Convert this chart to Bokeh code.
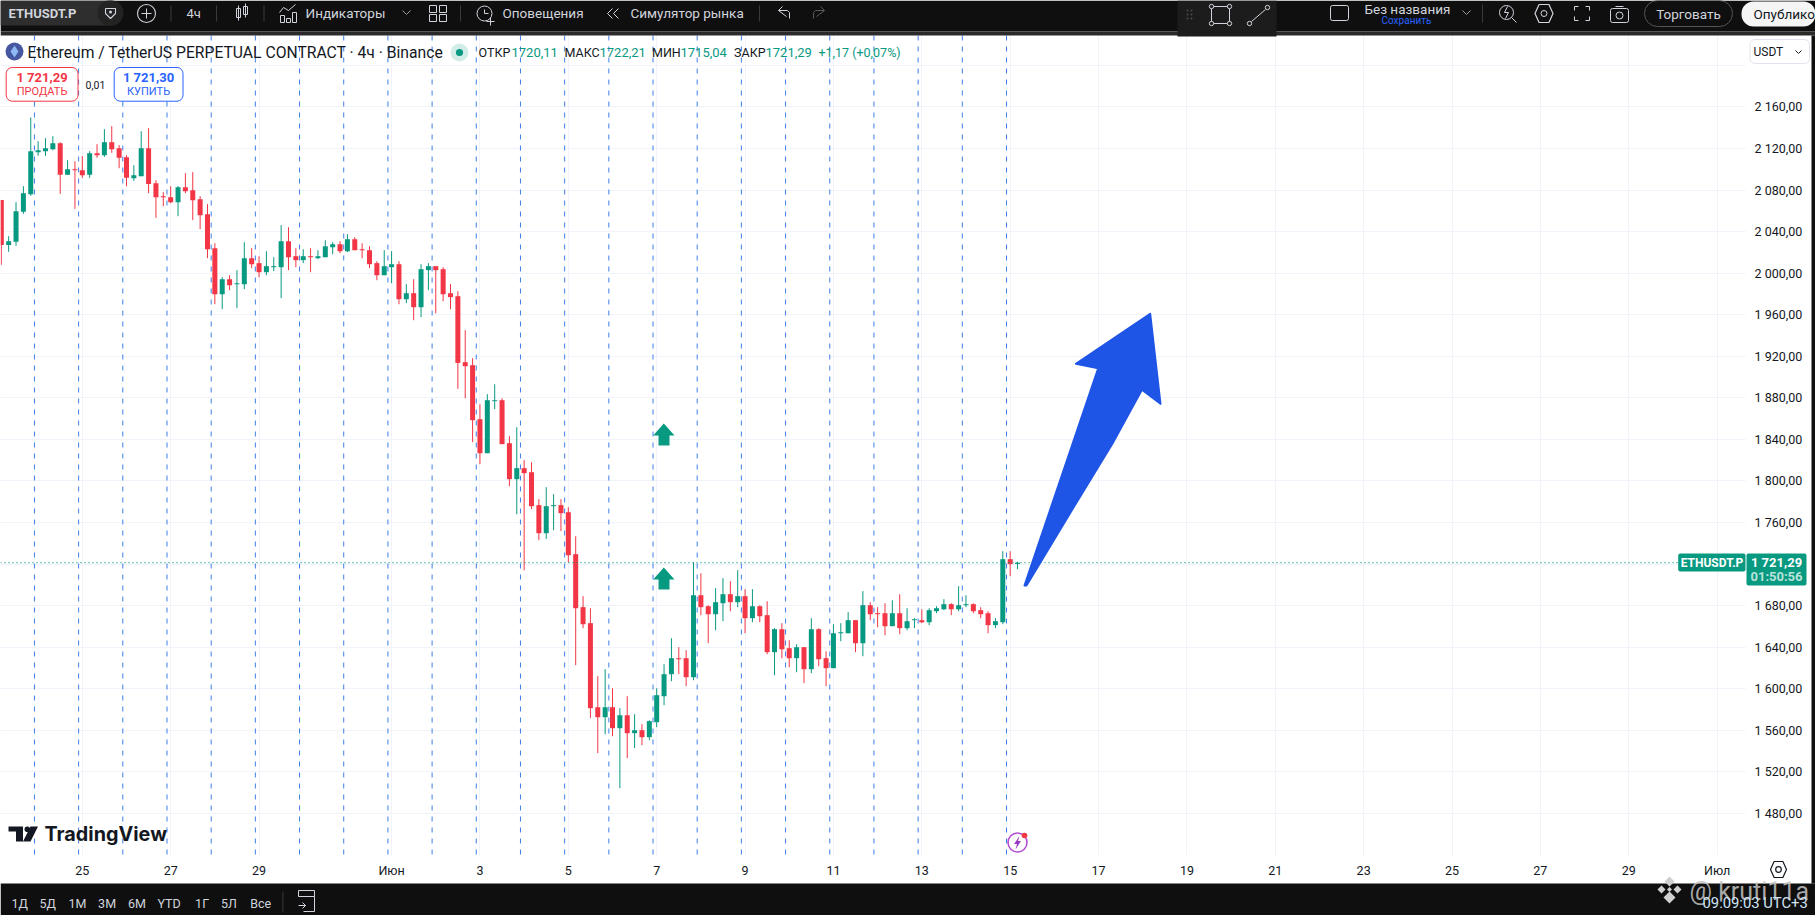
from bokeh.plotting import figure
from bokeh.models import Range1d, FixedTicker, LinearAxis, Grid
from bokeh.core.properties import value
from bokeh.embed import file_html
from bokeh.resources import INLINE

# ---------- data ----------
highs = [2070.5,2035.6,2068.3,2083.7,2149.8,2127.0,2129.9,2131.8,2126.0,2108.7,
2107.7,2112.6,2117.4,2124.1,2138.5,2141.4,2123.2,2113.5,2103.9,2136.6,
2139.5,2089.5,2077.9,2083.7,2083.7,2096.2,2097.2,2074.1,2066.4,2028.8,
1996.1,1998.0,2002.9,2029.8,2024.0,2016.3,2021.1,2015.3,2046.2,2044.2,
2024.0,2023.0,2024.0,2022.1,2031.7,2029.8,2030.8,2037.5,2034.6,2028.8,
2025.9,2011.5,2022.1,2021.1,2011.5,1989.4,1994.2,2008.6,2009.6,2006.7,
2005.7,1989.4,1982.6,1945.1,1918.1,1873.9,1883.5,1893.1,1879.6,1843.1,
1851.7,1820.0,1818.0,1782.4,1794.0,1787.2,1782.4,1774.7,1746.8,1689.1,
1677.5,1612.1,1618.8,1600.5,1581.3,1592.8,1575.5,1565.9,1569.7,1600.5,
1623.6,1648.6,1640.0,1637.1,1721.5,1711.2,1680.4,1696.8,1706.4,1703.5,
1714.1,1695.8,1695.8,1680.4,1684.2,1658.3,1663.1,1646.7,1642.9,1640.0,
1667.9,1658.3,1636.1,1662.1,1663.1,1673.7,1666.0,1693.9,1683.3,1678.5,
1682.3,1685.2,1691.0,1677.5,1667.9,1676.5,1677.5,1679.4,1686.2,1682.3,
1698.7,1690.0,1682.3,1678.5,1674.6,1667.9,1732.4,1732.4,1722.21]
lows = [2008.0,2020.5,2026.3,2057.0,2074.4,2112.9,2112.9,2118.3,2076.3,2094.6,
2061.9,2091.7,2091.7,2111.0,2111.9,2115.8,2101.0,2083.7,2088.8,2093.3,
2076.9,2053.2,2064.4,2067.3,2054.8,2076.9,2051.0,2042.3,2014.4,1970.1,
1965.3,1983.6,1966.3,1984.6,2004.8,1996.1,1998.0,2001.9,1975.9,2002.9,
2005.7,2009.6,2000.9,2013.4,2015.3,2018.2,2019.2,2020.2,2022.1,2014.4,
2004.8,1993.2,1998.0,1990.3,1970.1,1971.1,1954.7,1957.6,1983.6,1961.4,
1973.0,1965.3,1888.6,1879.6,1837.3,1816.1,1826.7,1869.1,1835.4,1794.9,
1768.0,1714.0,1772.8,1743.0,1744.2,1752.6,1751.7,1721.5,1622.7,1658.3,
1571.6,1538.0,1556.2,1554.3,1504.3,1533.2,1542.8,1545.7,1550.5,1563.0,
1584.2,1607.3,1614.0,1602.4,1608.2,1670.8,1643.8,1656.3,1665.0,1674.6,
1678.5,1653.4,1664.0,1664.0,1633.2,1613.0,1629.4,1620.7,1615.9,1605.3,
1615.0,1621.7,1602.4,1619.8,1645.7,1653.4,1635.2,1631.3,1666.0,1659.2,
1651.5,1660.2,1652.5,1656.3,1658.3,1663.1,1661.2,1672.7,1675.6,1670.8,
1674.6,1678.5,1672.7,1667.9,1653.4,1658.3,1662.1,1708.3,1715.04]
opens = [2070.5,2027.2,2030.1,2059.0,2076.0,2116.4,2117.4,2119.3,2125.1,2094.6,
2100.0,2099.1,2094.6,2115.4,2113.5,2126.0,2120.3,2111.6,2091.4,2093.3,
2120.3,2086.6,2074.1,2073.1,2068.3,2082.7,2079.8,2071.2,2056.7,2024.0,
1979.7,1994.2,1989.4,1989.4,2014.4,2009.6,2000.9,2005.7,2005.7,2030.8,
2016.3,2012.5,2016.3,2014.4,2015.3,2025.0,2027.9,2021.1,2032.7,2023.0,
2022.1,2009.6,1998.0,2005.7,2008.6,1974.9,1980.7,1967.2,2002.9,2006.7,
2003.8,1980.7,1977.8,1914.3,1911.4,1859.4,1826.7,1876.8,1877.7,1836.3,
1801.7,1812.3,1808.4,1776.7,1749.7,1775.7,1776.7,1769.9,1729.5,1678.5,
1663.1,1582.2,1572.6,1582.2,1562.0,1574.5,1557.2,1560.1,1553.4,1567.8,
1592.8,1614.0,1629.4,1629.4,1611.1,1690.0,1679.4,1671.7,1682.3,1691.0,
1683.3,1689.1,1667.9,1679.4,1670.8,1635.2,1657.3,1639.0,1629.4,1640.0,
1618.8,1657.3,1629.4,1619.8,1653.4,1653.4,1666.0,1643.8,1680.4,1672.7,
1672.7,1660.2,1672.7,1658.3,1666.0,1666.0,1664.0,1674.6,1676.5,1681.4,
1676.5,1680.4,1681.4,1675.6,1672.7,1661.2,1664.0,1724.7,1720.11]
closes = [2027.2,2030.8,2059.6,2076.9,2117.4,2118.3,2120.3,2125.1,2094.6,2100.0,
2099.1,2094.3,2115.4,2113.5,2126.0,2119.3,2111.0,2091.7,2094.3,2120.3,
2085.9,2073.1,2073.1,2068.3,2082.7,2078.9,2070.2,2055.8,2023.0,1979.7,
1994.2,1988.4,1990.3,2014.4,2008.6,2000.9,2006.7,2006.7,2030.8,2015.3,
2012.5,2016.3,2015.3,2016.3,2025.9,2027.9,2021.1,2032.7,2022.1,2022.1,
2008.6,1998.0,2006.7,2008.6,1974.9,1980.7,1967.2,2003.8,2006.7,2002.9,
1979.7,1976.9,1913.6,1910.4,1858.5,1826.7,1877.7,1877.7,1835.4,1801.7,
1812.3,1807.5,1775.7,1749.7,1775.7,1776.7,1769.0,1728.5,1677.5,1662.1,
1581.3,1572.6,1582.2,1562.0,1574.5,1557.2,1560.1,1553.4,1568.8,1593.8,
1614.0,1629.4,1628.4,1611.1,1690.0,1678.5,1671.7,1683.3,1691.0,1683.3,
1689.1,1667.9,1679.4,1669.8,1635.2,1657.3,1638.0,1629.4,1640.0,1618.8,
1657.3,1628.4,1619.8,1653.4,1654.4,1666.0,1643.8,1680.4,1671.7,1671.7,
1660.2,1672.7,1658.3,1665.0,1666.9,1664.0,1675.6,1677.5,1681.4,1676.5,
1680.4,1681.4,1674.6,1671.7,1661.2,1665.0,1724.7,1719.9,1721.29]

date_ticks = [11,23,35,53,65,77,89,101,113,125,137,149,161,173,185,197,209,221,233]
date_labels = ["25","27","29","Июн","3","5","7","9","11","13","15","17","19","21","23","25","27","29","Июл"]
day_lines = [4.5+6*i for i in range(23)]
price_ticks = [1480+40*i for i in range(18)]
last_price = 1721.29

GREEN, RED, BLUE, DARK = "#089981", "#F23645", "#2962FF", "#0f0f0f"
INK, BAR_TXT = "#131722", "#d1d4dc"
FONT = "Roboto"

# the overlay drawings (toolbars, badges, logo) are placed in page pixels
def fx(px): return (px-0.8)/7.364
def fy(py): return 2160-(py-106.4)/1.039

p = figure(width=1815, height=915, min_border=0,
           x_range=Range1d(fx(0), fx(1815)), y_range=Range1d(fy(915), fy(0)),
           x_axis_type=None, y_axis_type=None, toolbar_location=None, output_backend="svg",
           background_fill_color="white", border_fill_color="white", outline_line_color=None)

def txt(x, y, s, size=13, color=BAR_TXT, align="left", style="normal", font=FONT, alpha=1.0):
    p.text([fx(x)],[fy(y)],text=[s],text_font=value(font),text_font_size=f"{size}px",text_color=color,
           text_align=align,text_baseline="middle",text_font_style=style,text_alpha=alpha)
def ln(xs, ys, color=BAR_TXT, w=1.0):
    p.line([fx(v) for v in xs],[fy(v) for v in ys],line_color=color,line_width=w)
def box(l, r, t, b, fill=None, line=None, rad=0, w=1.0):
    p.quad(left=[fx(l)],right=[fx(r)],top=[fy(t)],bottom=[fy(b)],fill_color=fill,line_color=line,line_width=w,border_radius=rad)
def circ(x, y, r, fill=None, line=None, w=1.0, falpha=1.0):
    p.circle([fx(x)],[fy(y)],radius=r/7.364,fill_color=fill,fill_alpha=falpha,line_color=line,line_width=w)
def poly(xs, ys, fill, line=None, w=1.0):
    p.patch([fx(v) for v in xs],[fy(v) for v in ys],fill_color=fill,line_color=line,line_width=w,line_join="round")
def hexa(cx, cy, r=8, color=BAR_TXT):
    ln([cx-r*.55,cx+r*.55,cx+r,cx+r*.55,cx-r*.55,cx-r,cx-r*.55],[cy-r,cy-r,cy,cy+r,cy+r,cy,cy-r],color,1.2)

# ---------- axes and grid ----------
xax = LinearAxis(ticker=FixedTicker(ticks=date_ticks), fixed_location=fy(855),
                 major_label_overrides=dict(zip(date_ticks, date_labels)))
yax_ticks = price_ticks + [2200]
y_over = {t: f"{t//1000} {t%1000:03d},00" for t in price_ticks}
y_over[2200] = " "; y_over[1720] = " "
yax = LinearAxis(ticker=FixedTicker(ticks=yax_ticks), fixed_location=fx(1745), major_label_overrides=y_over)
for ax, sd in ((xax,7),(yax,9)):
    ax.axis_line_color=None; ax.major_tick_line_color=None; ax.minor_tick_line_color=None
    ax.major_tick_out=0; ax.major_tick_in=0
    ax.major_label_text_font=FONT; ax.major_label_text_font_size="12.5px"
    ax.major_label_text_color=INK; ax.major_label_standoff=sd
p.add_layout(xax,"below"); p.add_layout(yax,"right")
p.add_layout(Grid(dimension=0,ticker=xax.ticker,grid_line_color="#f0f3fa",grid_line_width=1))
p.add_layout(Grid(dimension=1,ticker=yax.ticker,grid_line_color="#f0f3fa",grid_line_width=1))
# the price and time scales have a plain white ground
box(1745,1811,35,883,"white"); box(0,1745,855,883,"white")

# ---------- candles ----------
p.segment(day_lines,[fy(35)]*len(day_lines),day_lines,[fy(855)]*len(day_lines),
          line_color="#3f7ee8",line_width=1,line_dash="5 6")
idx = list(range(len(opens)))
colors = [GREEN if c>=o else RED for o,c in zip(opens,closes)]
p.segment(idx,highs,idx,lows,line_color=colors,line_width=1)
p.vbar(x=idx,width=0.68,top=[max(o,c) for o,c in zip(opens,closes)],
       bottom=[min(o,c) for o,c in zip(opens,closes)],fill_color=colors,line_color=None)
p.line([fx(0),fx(1678)],[last_price,last_price],line_color=GREEN,line_width=1.2,line_dash="1 3")

for py0 in (423,567):
    poly([663.3,674,669,669,658,658,652.7],[py0,py0+12,py0+12,py0+22,py0+22,py0+12,py0+12],GREEN)
poly([1024,1063,1097.7,1075.4,1149.7,1160,1141.4,1112,1073,1026],
     [585,470,367.7,363.3,313.3,403.3,389.3,443,507,585],"#1f55e6","#1f55e6",2)

# ---------- legend row, order boxes ----------
circ(14,51,9,"#46579f")
poly((14,18,14,10),(45,51,57,51),"#8fb8f5")
txt(27,52,"Ethereum / TetherUS PERPETUAL CONTRACT · 4ч · Binance",15.7,INK)
circ(459,52,9,GREEN,falpha=.18); circ(459,52,3.6,GREEN)
for lx,l,vx,v in [(478,"ОТКР",511,"1720,11"),(564,"МАКС",599,"1722,21"),(651.5,"МИН",680,"1715,04"),(733.6,"ЗАКР",765,"1721,29")]:
    txt(lx,52,l,12.5,INK); txt(vx,52,v,13,GREEN)
txt(818,52,"+1,17 (+0,07%)",12.5,GREEN)
box(5.7,77.5,67,100.7,"white",RED,6); box(113.7,182.5,67,100.7,"white",BLUE,6)
txt(41.5,77,"1 721,29",13,RED,"center",style="bold"); txt(41.5,91,"ПРОДАТЬ",11,RED,"center")
txt(95,84,"0,01",10.5,INK,"center")
txt(148,77,"1 721,30",13,BLUE,"center",style="bold"); txt(148,91,"КУПИТЬ",11,BLUE,"center")

# ---------- scale widgets ----------
box(1749.5,1809,39,63,"white","#e0e3eb",5)
txt(1753,51,"USDT",12,INK); ln([1795,1798,1801],[50,53,50],INK)
box(1677.7,1745,553,571,GREEN,None,2); box(1746,1806,553,585,GREEN,None,2)
txt(1711.5,562.5,"ETHUSDT.P",12,"white","center",style="bold")
txt(1776,562,"1 721,29",13,"white","center",style="bold")
txt(1776,576,"01:50:56",13,"#b9e3da","center",style="bold")
hexa(1778,869,8,INK); circ(1778,869,2.8,None,INK,1.2)

# TradingView logo
poly((8,22.5,22.5,15.5,15.5,8),(826,826,841,841,831,831),INK)
circ(26.8,828.7,2.8,INK)
poly((30,37.5,30,22.5),(826,826,841,841),INK)
txt(44,833.5,"TradingView",19.8,INK,style="bold",font="Inter")
# event icon
circ(1017,842,9.5,"white","#b34fd1",1.6)
poly((1019,1013.5,1016.5,1015,1020.5,1017.5),(835.5,843.5,843.5,849,840.5,840.5),"#9c39c0")
circ(1024,835,2.8,RED)

# ---------- top bar ----------
box(0,1815,0,31,DARK); box(0,1815,31,35,"#2a2a2a"); box(1811,1815,35,883,DARK)
box(0,112,0,25,"#2e2e2e")
circ(110,12.5,13,"#232323")
txt(8,12.5,"ETHUSDT.P",13,BAR_TXT,style="bold")
ln([105,115,115,110,105,105],[8,8,13,18,13,8],BAR_TXT,1.1)
circ(110,11.5,1.5,BAR_TXT)
circ(146,13,9,None,BAR_TXT,1.1)
ln([141,151],[13,13]); ln([146,146],[8,18])
for sx in [170.5,216,263.5,460,759]:
    ln([sx,sx],[5,21],"#3a3a3a")
txt(186,12.5,"4ч",13)
for cx,a,b in [(238,8,17),(245,6,14)]:
    box(cx-2,cx+2,a,b,None,BAR_TXT); ln([cx,cx],[a-3,b+3])
ln([279,283,288,295],[12,7,10,4])
for bx,bt in [(280,15),(286,18),(292,12)]:
    box(bx,bx+4,bt,22,None,BAR_TXT)
txt(305,12.5,"Индикаторы",13.5)
ln([402,406,410],[10,14,10],"#9a9a9a")
for qx,qy in [(429,5),(439,5),(429,14),(439,14)]:
    box(qx,qx+7,qy,qy+7,None,BAR_TXT)
circ(484,13,7.5,None,BAR_TXT)
ln([484,484,488],[9,13,13]); ln([486,494],[21,21]); ln([490,490],[17,25])
txt(502,12.5,"Оповещения",13.5)
ln([612,607,612],[8,13,18]); ln([618,613,618],[8,13,18])
txt(630,12.5,"Симулятор рынка",13.5)
ln([786,778,782],[16,10,6]); ln([778,787,789,789],[10,10,12,18])
ln([816,824,820],[16,10,6],"#5a5a5a"); ln([824,815,813,813],[10,10,12,18],"#5a5a5a")
box(1177,1276,0,36,"#1c1c1c")
for dx in [1187,1191]:
    for dy in [10,14,18]:
        circ(dx,dy,1,"#4a4a4a")
box(1211,1229,6,23,None,BAR_TXT)
for cx,cy in [(1211,6),(1229,6),(1211,23),(1229,23),(1249,23),(1267,7)]:
    circ(cx,cy,2.2,"#1c1c1c",BAR_TXT)
ln([1251,1265],[21,9])
box(1330,1348,5,20,None,BAR_TXT,2)
txt(1364,8,"Без названия",13.5)
txt(1381,20,"Сохранить",10,BLUE)
ln([1462,1466,1470],[10,14,10],"#9a9a9a")
ln([1482,1482],[4,22],"#3a3a3a")
circ(1506,12,7,None,BAR_TXT)
ln([1511,1516],[17,22]); ln([1507,1504,1508,1505],[6,12,12,18])
hexa(1543.5,13,9)
circ(1543.5,13,3,None,BAR_TXT)
ln([1574,1574,1578],[10,6,6]); ln([1585,1589,1589],[6,6,10])
ln([1574,1574,1578],[16,20,20]); ln([1585,1589,1589],[20,20,16])
box(1610,1628,8,22,None,BAR_TXT,2)
circ(1619,15,3.5,None,BAR_TXT)
ln([1615,1623],[6,6])
box(1644,1732,0,26,DARK,"#555555",13)
txt(1688,13,"Торговать",13.5,BAR_TXT,"center")
box(1741,1815,1,26,"#f5f5f5",None,12)
txt(1753,13,"Опублико",13.5,INK)

# ---------- bottom bar ----------
box(0,1815,883,915,DARK)
for sx,s in [(11,"1Д"),(39,"5Д"),(68,"1М"),(97.6,"3М"),(127.4,"6М"),(157,"YTD"),(194.6,"1Г"),(220.4,"5Л"),(249.7,"Все")]:
    txt(sx,903,s,12.5)
ln([282.4,282.4],[891,912],"#3a3a3a")
ln([298,298,314,314],[896,890,890,896]); ln([298,314],[896,896])
ln([314,314,303],[896,911,911]); ln([298,305],[905,905]); ln([302,305,302],[902,905,908])
# watermark, over both the scale and the bar
for cx,cy,r in [(1669,881,5),(1661,889,4),(1677,889,4),(1669,889,2.5),(1669,897,6)]:
    poly((cx,cx+r,cx,cx-r),(cy-r,cy,cy+r,cy),"#cfcfcf")
txt(1689,891,"@ kruti11a",25,"#c4c4c4",alpha=.85)
txt(1702,902,"09:09:03 UTC+3",14.8,"#cfe3f5")

open("out.html","w").write(file_html(p, INLINE))
